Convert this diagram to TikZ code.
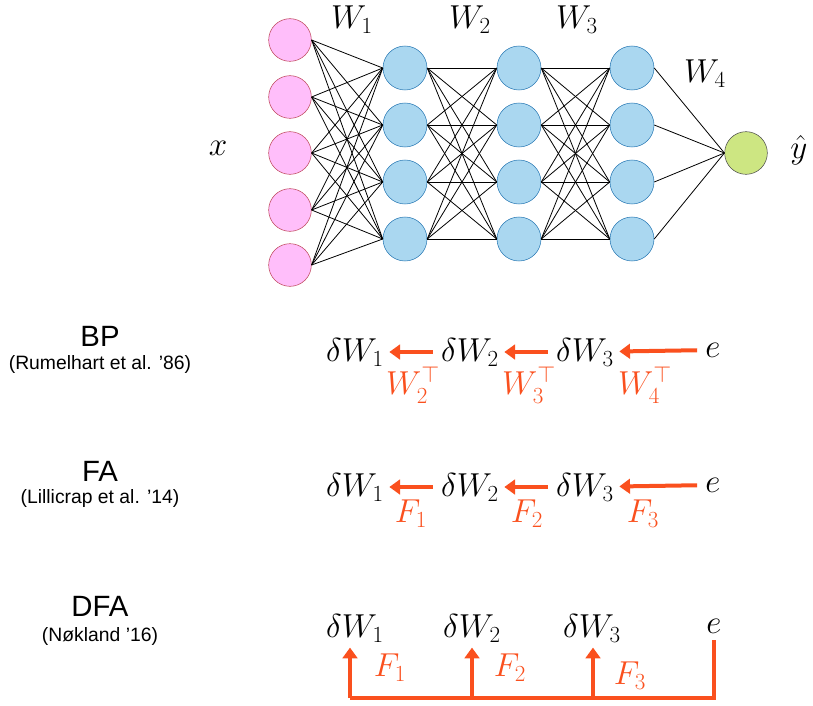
\documentclass[tikz,border=0pt]{standalone}
\usepackage{fontspec}
\setsansfont{Liberation Sans}
\usetikzlibrary{arrows.meta}
\definecolor{og}{RGB}{250,80,30}
\definecolor{pk}{RGB}{255,190,250}
\definecolor{pkd}{RGB}{190,70,90}
\definecolor{bl}{RGB}{170,215,240}
\definecolor{bld}{RGB}{40,120,180}
\definecolor{gr}{RGB}{205,230,130}
\begin{document}
\begin{tikzpicture}[x=0.75pt,y=-0.75pt,
 inp/.style={circle,draw=pkd,fill=pk,minimum size=32pt,inner sep=0},
 hid/.style={circle,draw=bld,fill=bl,minimum size=33pt,inner sep=0},
 outn/.style={circle,draw=black!70,fill=gr,minimum size=32pt,inner sep=0},
 lab/.style={font=\fontsize{24}{28}\selectfont,inner sep=1pt},
 sm/.style={font=\fontsize{24}{28}\selectfont,text=og,inner sep=1pt},
 tt/.style={font=\sffamily\fontsize{22}{26}\selectfont},
 ct/.style={font=\sffamily\fontsize{14.5}{17}\selectfont},
 oa/.style={og,line width=3pt,-{Triangle[length=8pt,width=11pt]}},
 ha/.style={oa,shorten >=3pt,shorten <=5pt},
 w/.style={black,line width=0.6pt}]
\useasboundingbox (0,0) rectangle (813,706);
% network
\foreach \i/\y in {1/40,2/97,3/153,4/210,5/265} \node[inp] (a\i) at (290,\y) {};
\foreach \l/\x in {b/405,c/519,d/632}
  \foreach \i/\y in {1/68,2/125,3/182,4/239} \node[hid] (\l\i) at (\x,\y) {};
\node[outn] (o) at (746,153) {};
\foreach \i in {1,...,5}\foreach \j in {1,...,4} \draw[w] (a\i.east) -- (b\j.west);
\foreach \i in {1,...,4}\foreach \j in {1,...,4} {\draw[w] (b\i.east) -- (c\j.west); \draw[w] (c\i.east) -- (d\j.west);}
\foreach \i in {1,...,4} \draw[w] (d\i.east) -- (o.west);
\node[lab] (w1) at (352,20) {$W_1$};
\node[lab] (w2) at (470,20) {$W_2$};
\node[lab] (w3) at (577,20) {$W_3$};
\node[lab] (w4) at (705,74) {$W_4$};
\node[lab] (x) at (218,148) {$x$};
\node[lab] (yh) at (799,150) {$\hat{y}$};
% BP
\node[tt] (bp) at (100,336) {BP};
\node[ct] (bpc) at (100,364) {(Rumelhart et al. '86)};
\node[lab] (p1) at (355,352) {$\delta W_1$};
\node[lab] (p2) at (470,352) {$\delta W_2$};
\node[lab] (p3) at (585,352) {$\delta W_3$};
\node[lab] (pe) at (713,350) {$e$};
\draw[ha] (p2) -- (p1);
\draw[ha] (p3) -- (p2);
\draw[ha] (pe) -- (p3);
\node[sm] (pw2) at (413,385) {$W_2^{\top}$};
\node[sm] (pw3) at (529,385) {$W_3^{\top}$};
\node[sm] (pw4) at (645,385) {$W_4^{\top}$};
% FA
\node[tt] (fa) at (100,471) {FA};
\node[ct] (fac) at (100,498) {(Lillicrap et al. '14)};
\node[lab] (f1) at (355,487) {$\delta W_1$};
\node[lab] (f2) at (470,487) {$\delta W_2$};
\node[lab] (f3) at (585,487) {$\delta W_3$};
\node[lab] (fe) at (713,485) {$e$};
\draw[ha] (f2) -- (f1);
\draw[ha] (f3) -- (f2);
\draw[ha] (fe) -- (f3);
\node[sm] (ff1) at (411,514) {$F_1$};
\node[sm] (ff2) at (527,514) {$F_2$};
\node[sm] (ff3) at (643,514) {$F_3$};
% DFA
\node[tt] (dfa) at (100,606) {DFA};
\node[ct] (dfac) at (100,636) {(Nøkland '16)};
\node[lab] (d1) at (355,628) {$\delta W_1$};
\node[lab] (d2) at (472,628) {$\delta W_2$};
\node[lab] (d3) at (592,628) {$\delta W_3$};
\node[lab] (de) at (714,626) {$e$};
\coordinate (q1) at (350,698);
\coordinate (q2) at (472,698);
\coordinate (q3) at (593,698);
\coordinate (qe) at (714,698);
\draw[og,line width=3pt] ([yshift=-4pt]de.south) -- (qe) -- (q1);
\draw[oa,shorten >=3pt] (q1) -- (q1|-d1.south);
\draw[oa,shorten >=3pt] (q2) -- (q2|-d2.south);
\draw[oa,shorten >=3pt] (q3) -- (q3|-d3.south);
\node[sm] (g1) at (390,668) {$F_1$};
\node[sm] (g2) at (510,668) {$F_2$};
\node[sm] (g3) at (630,676) {$F_3$};
\end{tikzpicture}
\end{document}
